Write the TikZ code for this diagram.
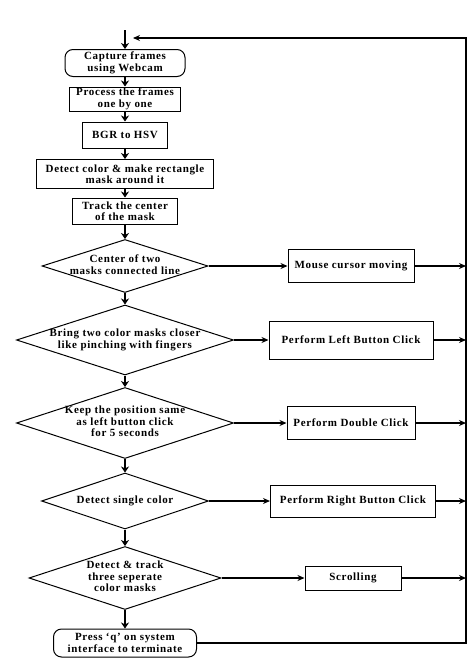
\documentclass[tikz,border=0pt]{standalone}
\usepackage{fontspec}
\setmainfont{Liberation Serif}[LetterSpace=6]
\usetikzlibrary{shapes.geometric,arrows.meta}
\newcommand\dtxt[1]{\smash{\makebox[0pt]{\raisebox{-.25em}{\begin{tabular}{@{}c@{}}#1\end{tabular}}}}}
\begin{document}
\begin{tikzpicture}[x=1pt,y=-1pt,
  font=\fontsize{11}{11.5}\selectfont\bfseries,
  box/.style={draw,line width=1pt,inner sep=1pt,align=center},
  rbox/.style={box,rounded corners=8pt},
  dia/.style={draw,line width=1pt,diamond,inner sep=0pt},
  flow/.style={-{Stealth[length=6pt,width=8pt]},line width=2.6pt},
  side/.style={-{Stealth[length=7pt,width=6pt]},line width=1.8pt}]
\useasboundingbox (0,0) rectangle (474,664);
\node[rbox,minimum width=120,minimum height=27] (cap) at (125,63) {Capture frames\\using Webcam};
\node[box,minimum width=111,minimum height=24] (proc) at (125,99) {Process the frames\\one by one};
\node[box,minimum width=85,minimum height=26] (hsv) at (125,135) {BGR to HSV};
\node[box,minimum width=177,minimum height=29] (mask) at (125,174) {Detect color \& make rectangle\\mask around it};
\node[box,minimum width=105,minimum height=26] (trk) at (125,211) {Track the center\\of the mask};
\node[dia,minimum width=166,minimum height=53] (cen) at (125,266) {\dtxt{Center of two\\masks connected line}};
\node[box,minimum width=126,minimum height=33] (move) at (351,266) {Mouse cursor moving};
\node[dia,minimum width=217,minimum height=70] (pinch) at (125,340) {\dtxt{Bring two color masks closer\\like pinching with fingers}};
\node[box,minimum width=164,minimum height=38] (left) at (351,340) {Perform Left Button Click};
\node[dia,minimum width=217,minimum height=71] (hold) at (125,423) {\dtxt{Keep the position same\\as left button click\\for 5 seconds}};
\node[box,minimum width=128,minimum height=33] (dbl) at (351,423) {Perform Double Click};
\node[dia,minimum width=167,minimum height=56] (single) at (125,501) {\dtxt{Detect single color}};
\node[box,minimum width=165,minimum height=32] (right) at (353,501) {Perform Right Button Click};
\node[dia,minimum width=192,minimum height=63] (three) at (125,578) {\dtxt{Detect \& track\\three seperate\\color masks}};
\node[box,minimum width=96,minimum height=24] (scroll) at (353,578) {Scrolling};
\node[rbox,minimum width=143,minimum height=28] (quit) at (125,643) {Press ‘q’ on system\\interface to terminate};
\coordinate (top) at (125,30);
\coordinate (back) at (133,38);
\coordinate (rt) at (466,38);
% main column
\draw[flow] (top) -- (cap.north);
\draw[flow] (cap.south) -- (proc.north);
\draw[flow] (proc.south) -- (hsv.north);
\draw[flow] (hsv.south) -- (mask.north);
\draw[flow] (mask.south) -- (trk.north);
\draw[flow] (trk.south) -- (cen.north);
\draw[flow] (cen.south) -- (pinch.north);
\draw[flow] (pinch.south) -- (hold.north);
\draw[flow] (hold.south) -- (single.north);
\draw[flow] (single.south) -- (three.north);
\draw[flow] (three.south) -- (quit.north);
% actions
\draw[side] (cen.east) -- (move.west);
\draw[side] (pinch.east) -- (left.west);
\draw[side] (hold.east) -- (dbl.west);
\draw[side] (single.east) -- (right.west);
\draw[side] (three.east) -- (scroll.west);
\draw[side] (move.east) -- (move.east -| rt);
\draw[side] (left.east) -- (left.east -| rt);
\draw[side] (dbl.east) -- (dbl.east -| rt);
\draw[side] (right.east) -- (right.east -| rt);
\draw[side] (scroll.east) -- (scroll.east -| rt);
% loop back
\draw[side] (quit.east) -- (quit.east -| rt) -- (rt) -- (back);
\end{tikzpicture}
\end{document}
